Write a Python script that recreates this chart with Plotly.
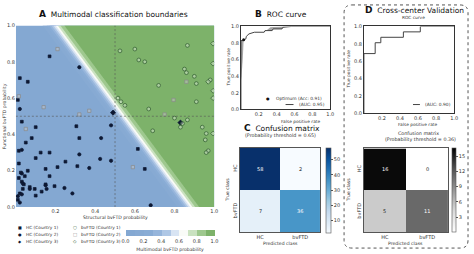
import numpy as np
import plotly.graph_objects as go

W, H = 474, 254
def px(x): return x / W
def py(y): return 1 - y / H

FONT = "DejaVu Sans"
TXT = "#333333"

# ---------------- Panel A data ----------------
hc1_x = [0.17,0.02,0.06,0.01,0.03,0.10,0.305,0.08,0.32,0.05,0.015,0.125,0.17,0.10,0.015,0.25,0.31,0.21,0.15,0.06,0.025,0.045,0.17,0.015,0.03,0.15,0.04,0.07,0.095,0.195,0.035,0.13,0.02,0.10,0.01,0.615,0.65]
hc1_y = [0.83,0.71,0.69,0.59,0.47,0.44,0.445,0.38,0.38,0.355,0.31,0.30,0.30,0.27,0.24,0.25,0.225,0.22,0.21,0.20,0.19,0.17,0.17,0.16,0.14,0.125,0.125,0.11,0.10,0.115,0.10,0.085,0.075,0.063,0.04,0.32,0.21]
hc2_x = [0.32,0.02,0.48,0.43,0.03,0.32,0.425,0.48,0.37,0.03,0.035,0.15,0.07,0.245,0.155,0.03,0.285,0.01,0.02,0.68]
hc2_y = [0.77,0.54,0.45,0.38,0.315,0.29,0.265,0.255,0.215,0.185,0.13,0.12,0.10,0.105,0.10,0.07,0.075,0.06,0.025,0.01]
hc3_x = [0.49,0.83]
hc3_y = [0.52,0.465]

ftd1_x = [0.525,0.60,0.62,0.65,0.865,0.85,0.86,0.90,0.91,0.98,0.72,0.91,0.67,0.515,0.53,0.55,0.80,0.84,0.865,0.83,0.69,0.94,0.96,0.955,0.97,0.96]
ftd1_y = [0.86,0.87,0.81,0.80,0.89,0.76,0.74,0.72,0.68,0.70,0.67,0.58,0.54,0.60,0.58,0.56,0.49,0.46,0.48,0.44,0.42,0.44,0.405,0.37,0.31,0.30]
ftd2_x = [0.21,0.015,0.14,0.32,0.37,0.05,0.86,0.795,0.75,0.59]
ftd2_y = [0.87,0.61,0.55,0.51,0.53,0.43,0.69,0.59,0.51,0.22]
ftd3_x = [0.995,0.995,0.995,0.995,0.995,0.97]
ftd3_y = [0.90,0.79,0.64,0.60,0.405,0.69]

# logistic decision surface of the multimodal model
w_struct, w_func, bias, steep, thr = 1.0, 0.68, -0.885, 40.0, 0.65
struct_thr, func_thr = 0.5, 0.5

# ---------------- Panel B (ROC) ----------------
roc_fpr = [0, 0, 0.02, 0.055, 0.06, 0.09, 0.15, 0.26, 0.27, 0.35, 0.36, 0.46, 0.47, 0.57, 1.0]
roc_tpr = [0, 0.83, 0.83, 0.85, 0.88, 0.91, 0.93, 0.93, 0.95, 0.95, 0.97, 0.97, 0.99, 1.0, 1.0]
band_lo_fpr = [0, 0, 0.03, 0.02, 0.006]
band_lo_tpr = [0.35, 0.83, 0.83, 0.6, 0.4]
band_hi_fpr = [0.26, 0.33, 0.45, 0.57, 0.57, 0.47, 0.46, 0.36, 0.35, 0.27, 0.26]
band_hi_tpr = [0.93, 0.99, 1.0, 1.0, 1.0, 0.99, 0.97, 0.97, 0.95, 0.95, 0.93]
opt_fpr, opt_tpr = [0.03], [0.84]

# ---------------- Panel C (confusion) ----------------
classes = ["HC", "bvFTD"]
cm_c = [[58, 2], [7, 36]]
# ---------------- Panel D ----------------
rocD_fpr = [0, 0, 0.125, 0.125, 0.1875, 0.1875, 0.4375, 0.4375, 0.625, 0.625, 1.0]
rocD_tpr = [0, 0.6875, 0.6875, 0.8125, 0.8125, 0.875, 0.875, 0.9375, 0.9375, 1.0, 1.0]
cm_d = [[16, 0], [5, 11]]

ticks01 = [0.0, 0.2, 0.4, 0.6, 0.8, 1.0]
ticklab = ["0.0", "0.2", "0.4", "0.6", "0.8", "1.0"]

fig = go.Figure()

# ---- A background
g = np.linspace(0, 1, 401)
GX, GY = np.meshgrid(g, g)
logit_thr = np.log(thr / (1 - thr))
Z = 1 / (1 + np.exp(-(steep * (w_struct * GX + w_func * GY + bias) + logit_thr)))
cs = [[0, "#84a8d2"], [0.25, "#8aadd5"], [0.4, "#9fbbdf"], [0.5, "#c3d5ec"], [0.6, "#e9f0f8"],
      [0.65, "#ffffff"], [0.72, "#e4f0de"], [0.85, "#a9d09a"], [1, "#7db26a"]]
fig.add_trace(go.Contour(
    x=g, y=g, z=Z, colorscale=cs, zmin=0, zmax=1,
    contours=dict(start=0.1, end=0.9, size=0.1, coloring="fill"),
    line=dict(width=0), xaxis="x", yaxis="y", hoverinfo="skip",
    colorbar=dict(orientation="h", x=px(171.5), xanchor="center", y=py(232), yanchor="top",
                  len=90 / W, lenmode="fraction", thickness=6, thicknessmode="pixels",
                  xpad=0, ypad=0, outlinewidth=0, ticks="",
                  tickvals=ticks01, ticktext=ticklab,
                  tickfont=dict(size=5, color=TXT, family=FONT),
                  title=dict(text="Multimodal bvFTD probability", side="bottom",
                             font=dict(size=4.6, color=TXT, family=FONT)))))

hc_col = "#0d1833"
def sc(x, y, sym, color, line_col, size):
    fig.add_trace(go.Scatter(x=x, y=y, mode="markers", xaxis="x", yaxis="y", showlegend=False,
                             marker=dict(symbol=sym, size=size, color=color,
                                         line=dict(color=line_col, width=0.7))))
sc(hc1_x, hc1_y, "square", hc_col, hc_col, 2.8)
sc(hc2_x, hc2_y, "circle", hc_col, hc_col, 3.3)
sc(hc3_x, hc3_y, "diamond", hc_col, hc_col, 4)
sc(ftd1_x, ftd1_y, "circle", "rgba(255,255,255,0.35)", "#2f5a2f", 3.8)
sc(ftd2_x, ftd2_y, "square", "rgba(200,200,200,0.5)", "#8a8a8a", 3.3)
sc(ftd3_x, ftd3_y, "diamond", "rgba(255,255,255,0.35)", "#2f5a2f", 3.8)

# ---- B ROC
gray_band = "rgba(150,150,150,0.85)"
fig.add_trace(go.Scatter(x=band_lo_fpr, y=band_lo_tpr, fill="toself", mode="none",
                         fillcolor=gray_band, xaxis="x2", yaxis="y2", showlegend=False))
fig.add_trace(go.Scatter(x=band_hi_fpr, y=band_hi_tpr, fill="toself", mode="none",
                         fillcolor=gray_band, xaxis="x2", yaxis="y2", showlegend=False))
fig.add_trace(go.Scatter(x=roc_fpr, y=roc_tpr, mode="lines", line=dict(color="#444", width=1),
                         xaxis="x2", yaxis="y2", showlegend=False))
fig.add_trace(go.Scatter(x=opt_fpr, y=opt_tpr, mode="markers", marker=dict(color="#111", size=3),
                         xaxis="x2", yaxis="y2", showlegend=False))

# ---- C heatmap
blues = ['rgb(247,251,255)', 'rgb(222,235,247)', 'rgb(198,219,239)', 'rgb(158,202,225)',
         'rgb(107,174,214)', 'rgb(66,146,198)', 'rgb(33,113,181)', 'rgb(8,81,156)', 'rgb(8,48,107)']
blues_cs = [[i / 8, c] for i, c in enumerate(blues)]
fig.add_trace(go.Heatmap(z=cm_c, x=classes, y=classes, colorscale=blues_cs, zmin=2, zmax=58,
                         xaxis="x3", yaxis="y3", hoverinfo="skip",
                         colorbar=dict(x=px(329), xanchor="left", y=py(148), yanchor="top",
                                       len=87 / H, lenmode="fraction", thickness=5,
                                       xpad=0, ypad=0, outlinewidth=0.6, outlinecolor="#555",
                                       tickvals=[10, 20, 30, 40, 50], ticks="outside", ticklen=2,
                                       tickcolor="#555",
                                       tickfont=dict(size=5, color=TXT, family=FONT))))

# ---- D ROC
fig.add_trace(go.Scatter(x=rocD_fpr, y=rocD_tpr, mode="lines", line=dict(color="#444", width=1),
                         xaxis="x4", yaxis="y4", showlegend=False))
# ---- D heatmap
greys_cs = [[0, "#ffffff"], [0.25, "#d9d9d9"], [0.5, "#969696"], [0.75, "#525252"], [1, "#000000"]]
fig.add_trace(go.Heatmap(z=cm_d, x=classes, y=classes, colorscale=greys_cs, zmin=0, zmax=16.5,
                         xaxis="x5", yaxis="y5", hoverinfo="skip",
                         colorbar=dict(x=px(456), xanchor="left", y=py(149), yanchor="top",
                                       len=86 / H, lenmode="fraction", thickness=4,
                                       xpad=0, ypad=0, outlinewidth=0.6, outlinecolor="#555",
                                       tickvals=[3, 6, 9, 12, 15], ticks="outside", ticklen=2,
                                       tickcolor="#555",
                                       tickfont=dict(size=5, color=TXT, family=FONT))))

tf = dict(size=5, color=TXT, family=FONT)
def lin_axis(d, anchor, tickvals, ticktext, frame):
    return dict(domain=d, anchor=anchor, range=[0, 1], tickvals=tickvals, ticktext=ticktext,
                tickfont=tf, showgrid=False, zeroline=False, ticks="", ticklen=0,
                showline=frame, mirror=frame, linecolor="#333", linewidth=0.8, fixedrange=True)

lay = dict(
    width=W, height=H, margin=dict(l=0, r=0, t=0, b=0), paper_bgcolor="white",
    plot_bgcolor="white", showlegend=False, font=dict(family=FONT, size=5, color=TXT),
    xaxis=lin_axis([px(16), px(216)], "y", ticks01[1:], ticklab[1:], False),
    yaxis=lin_axis([py(209), py(23)], "x", ticks01, ticklab, False),
    xaxis2=lin_axis([px(243), px(333)], "y2", ticks01[1:], ticklab[1:], True),
    yaxis2=lin_axis([py(109), py(24)], "x2", ticks01, ticklab, True),
    xaxis4=lin_axis([px(367), px(458)], "y4", ticks01[1:], ticklab[1:], True),
    yaxis4=lin_axis([py(113), py(24)], "x4", ticks01, ticklab, True),
    xaxis3=dict(domain=[px(242), px(323)], anchor="y3", tickfont=tf, showline=True, mirror=True,
                linecolor="#555", linewidth=0.6, ticks="", fixedrange=True),
    yaxis3=dict(domain=[py(235), py(148)], anchor="x3", tickfont=tf, autorange="reversed",
                tickangle=-90, showline=True, mirror=True, linecolor="#555", linewidth=0.6,
                ticks="", fixedrange=True),
    xaxis5=dict(domain=[px(367), px(452)], anchor="y5", tickfont=tf, showline=True, mirror=True,
                linecolor="#555", linewidth=0.6, ticks="", fixedrange=True),
    yaxis5=dict(domain=[py(235), py(149)], anchor="x5", tickfont=tf, autorange="reversed",
                tickangle=-90, showline=True, mirror=True, linecolor="#555", linewidth=0.6,
                ticks="", fixedrange=True),
)
fig.update_layout(**lay)

ann = []
def A(x, y, text, size=5, angle=0, xanchor="center", color=TXT):
    ann.append(dict(x=px(x), y=py(y), xref="paper", yref="paper", text=text, showarrow=False,
                    xanchor=xanchor, yanchor="middle", textangle=angle,
                    font=dict(size=size, color=color, family=FONT)))

A(114, 11.5, "<b><span style='font-size:9px'>A</span></b>  Multimodal classification boundaries", 7.5, color="#111")
A(4, 116, "Functional bvFTD probability", 4.6, -90)
A(116, 219.5, "Structural bvFTD probability", 4.6)
A(283, 11.5, "<b><span style='font-size:9px'>B</span></b>  ROC curve", 7.5, color="#111")
A(230, 66, "True positive rate", 4.3, -90)
A(303, 121, "False positive rate", 4.3)
A(284, 128, "<b><span style='font-size:9px'>C</span></b>  Confusion matrix", 7.5, color="#111")
A(283, 136, "(Probability threshold = 0.65)", 4.8)
A(230, 191.5, "True class", 4.6, -90)
A(283, 246.5, "Predicted class", 4.6)
A(418, 7, "<b><span style='font-size:9px'>D</span></b>  Cross-center Validation", 7.5, color="#111")
A(417, 15, "ROC curve", 4.3)
A(351, 68, "True positive rate", 4.3, -90)
A(421, 124, "False positive rate", 4.3)
A(422, 133.5, "Confusion matrix", 4.8)
A(424, 140, "(Probability threshold = 0.36)", 4.8)
A(352, 191.5, "True class", 4.6, -90)
A(409, 246, "Predicted class", 4.6)

# cell values
def cell_text(cm, xa, ya, vmax):
    for i, row in enumerate(cm):
        for j, v in enumerate(row):
            ann.append(dict(x=classes[j], y=classes[i], xref=xa, yref=ya, text=str(v),
                            showarrow=False,
                            font=dict(size=5, family=FONT,
                                      color="#ffffff" if v > vmax * 0.55 else "#222222")))
cell_text(cm_c, "x3", "y3", 58)
cell_text(cm_d, "x5", "y5", 16)

# legend A
leg_rows = [230, 237, 244]
hc_lab = [("■", "HC (Country 1)"), ("●", "HC (Country 2)"), ("◆", "HC (Country 3)")]
ftd_lab = [("○", "bvFTD (Country 1)", "#2f5a2f"), ("□", "bvFTD (Country 2)", "#8a8a8a"),
           ("◇", "bvFTD (Country 3)", "#2f5a2f")]
for r, (g1, t1), (g2, t2, c2) in zip(leg_rows, hc_lab, ftd_lab):
    A(20, r, g1, 4, color=hc_col)
    A(24, r, t1, 4.3, xanchor="left")
    A(76, r, g2, 4.5, color=c2)
    A(80, r, t2, 4.3, xanchor="left")
# legend B / D
A(270, 97.3, "●", 4, color="#111")
A(276, 97.3, "Optimum (Acc: 0.91)", 4.4, xanchor="left")
A(300, 104, "(AUC: 0.95)", 4.4, xanchor="left")
A(427, 104, "(AUC: 0.90)", 4.4, xanchor="left")
fig.update_layout(annotations=ann)

shapes = [
    dict(type="line", xref="x", yref="y", x0=struct_thr, x1=struct_thr, y0=0, y1=1,
         line=dict(color="#555", width=0.6, dash="2px,2px")),
    dict(type="line", xref="x", yref="y", x0=0, x1=1, y0=func_thr, y1=func_thr,
         line=dict(color="#555", width=0.6, dash="2px,2px")),
    dict(type="line", xref="paper", yref="paper", x0=px(288), x1=px(296), y0=py(104), y1=py(104),
         line=dict(color="#444", width=1)),
    dict(type="line", xref="paper", yref="paper", x0=px(416.5), x1=px(423.5), y0=py(104), y1=py(104),
         line=dict(color="#444", width=1)),
]
# rounded dashed box for D
x0, x1, y0, y1, r = 347, 472, 2, 251, 8
rx, ry = r / W, r / H
X0, X1, Y0, Y1 = px(x0), px(x1), py(y1), py(y0)
path = (f"M {X0+rx},{Y1} L {X1-rx},{Y1} Q {X1},{Y1} {X1},{Y1-ry} L {X1},{Y0+ry} "
        f"Q {X1},{Y0} {X1-rx},{Y0} L {X0+rx},{Y0} Q {X0},{Y0} {X0},{Y0+ry} L {X0},{Y1-ry} "
        f"Q {X0},{Y1} {X0+rx},{Y1} Z")
shapes.append(dict(type="path", xref="paper", yref="paper", path=path,
                   line=dict(color="#555", width=1, dash="dot")))
fig.update_layout(shapes=shapes)

fig.write_html("out.html")
